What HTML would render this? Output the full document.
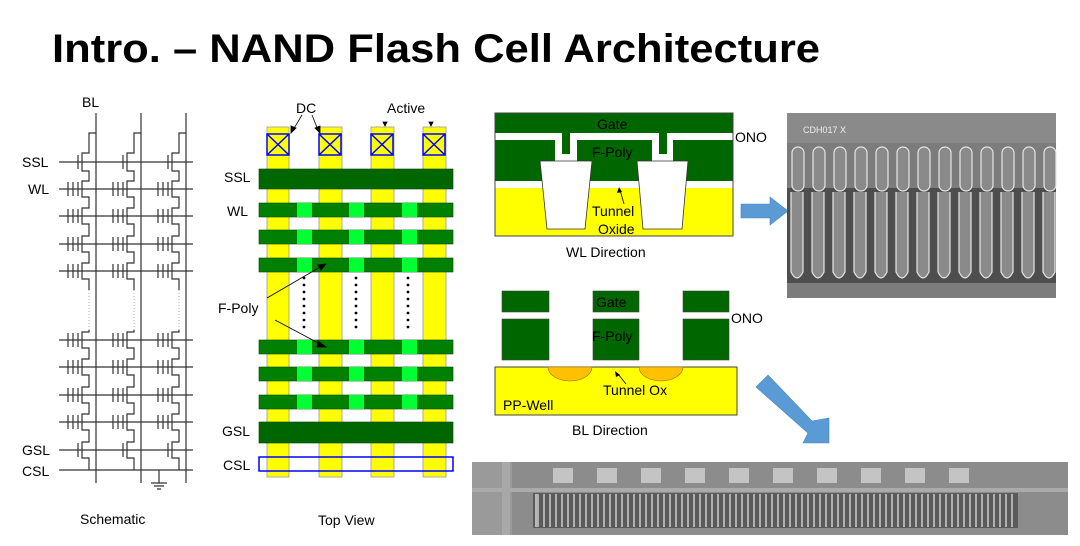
<!DOCTYPE html>
<html><head><meta charset="utf-8"><style>
html,body{margin:0;padding:0;background:#fff;}
svg{display:block;font-family:"Liberation Sans",Arial,sans-serif;}
</style></head><body>
<svg width="1080" height="546" viewBox="0 0 1080 546" xmlns="http://www.w3.org/2000/svg">
<text x="52" y="62" font-size="40" font-weight="bold" textLength="768" lengthAdjust="spacingAndGlyphs" fill="#000">Intro. – NAND Flash Cell Architecture</text>

<!-- Schematic -->
<g stroke="#333" stroke-width="1.2" fill="none">
 <line x1="96" y1="113" x2="96" y2="483"/><line x1="141" y1="113" x2="141" y2="483"/><line x1="186" y1="113" x2="186" y2="483"/>
 <g id="hl">
 <line x1="59" y1="162" x2="193" y2="162"/><line x1="59" y1="189" x2="193" y2="189"/><line x1="59" y1="216" x2="193" y2="216"/>
 <line x1="59" y1="244" x2="193" y2="244"/><line x1="59" y1="271" x2="193" y2="271"/><line x1="59" y1="340" x2="193" y2="340"/>
 <line x1="59" y1="367" x2="193" y2="367"/><line x1="59" y1="395" x2="193" y2="395"/><line x1="59" y1="422" x2="193" y2="422"/>
 <line x1="59" y1="450" x2="193" y2="450"/><line x1="59" y1="470" x2="193" y2="470"/>
 </g>
 <g id="col">
  <path d="M96 133 H89 V153 H82 V171 H89 V181 H82 V197 H89 V208 H82 V224 H89 V236 H82 V252 H89 V263 H82 V279 H89 V290"/>
  <path d="M89 290 V330" stroke-dasharray="1 2" stroke="#bbb"/>
  <path d="M89 330 V332 H82 V348 H89 V359 H82 V375 H89 V387 H82 V403 H89 V414 H82 V430 H89 V442 H82 V458 H89 V470"/>
  <path d="M78 155 V169 M78 182 V196 M73 182 V196 M68 182 V196 M78 209 V223 M73 209 V223 M68 209 V223 M78 237 V251 M73 237 V251 M68 237 V251 M78 264 V278 M73 264 V278 M68 264 V278 M78 333 V347 M73 333 V347 M68 333 V347 M78 360 V374 M73 360 V374 M68 360 V374 M78 388 V402 M73 388 V402 M68 388 V402 M78 415 V429 M73 415 V429 M68 415 V429 M78 443 V457"/>
 </g>
 <use href="#col" x="45"/><use href="#col" x="90"/>
 <path d="M159 470 V483 M151 483 H167 M154 486 H164 M157 489 H161"/>
</g>
<g font-size="14" fill="#000">
 <text x="82" y="107">BL</text>
 <text x="22" y="167">SSL</text><text x="28" y="194">WL</text>
 <text x="22" y="455">GSL</text><text x="22" y="476">CSL</text>
 <text x="80" y="524">Schematic</text>
</g>

<!-- Top view -->
<g fill="#ffff00" stroke="#999" stroke-width="0.8">
 <rect x="267" y="127" width="22" height="350"/><rect x="319" y="127" width="23" height="350"/>
 <rect x="371" y="127" width="23" height="350"/><rect x="423" y="127" width="23" height="350"/>
</g>
<g fill="none" stroke="#0000ff" stroke-width="1.5">
 <g id="dc"><rect x="267" y="134" width="22" height="21"/><path d="M267 134 L289 155 M289 134 L267 155"/></g>
 <use href="#dc" x="52"/><use href="#dc" x="104"/><use href="#dc" x="156"/>
 <rect x="259" y="457" width="194" height="14"/>
</g>
<g fill="#006600" stroke="#004400" stroke-width="0.6">
 <rect x="259" y="169" width="194" height="20"/><rect x="259" y="422" width="194" height="21"/>
</g>
<g id="wl">
 <rect x="259" y="203" width="194" height="14" fill="#008000" stroke="#004400" stroke-width="0.6"/>
 <rect x="297" y="203" width="15" height="14" fill="#00ff33"/><rect x="349" y="203" width="15" height="14" fill="#00ff33"/><rect x="402" y="203" width="15" height="14" fill="#00ff33"/>
</g>
<use href="#wl" y="27"/><use href="#wl" y="55"/><use href="#wl" y="137"/><use href="#wl" y="164"/><use href="#wl" y="192"/>
<g fill="#000">
 <g id="dots"><circle cx="304" cy="278" r="1.4"/><circle cx="304" cy="285" r="1.4"/><circle cx="304" cy="292" r="1.4"/><circle cx="304" cy="299" r="1.4"/><circle cx="304" cy="306" r="1.4"/><circle cx="304" cy="313" r="1.4"/><circle cx="304" cy="320" r="1.4"/><circle cx="304" cy="327" r="1.4"/></g>
 <use href="#dots" x="52"/><use href="#dots" x="104"/>
</g>
<g stroke="#000" stroke-width="0.8" fill="#000">
 <line x1="267" y1="298" x2="322" y2="266"/><path d="M326 264 L318 265 L321 270Z"/>
 <line x1="275" y1="320" x2="322" y2="345"/><path d="M326 347 L318 341 L317 347Z"/>
 <line x1="302" y1="115" x2="293" y2="130"/><path d="M291 133 L291 126 L296 128Z"/>
 <line x1="312" y1="115" x2="318" y2="130"/><path d="M320 133 L315 128 L320 126Z"/>
 <path d="M383 122 L387 122 L385 126Z M429 122 L433 122 L431 126Z"/>
</g>
<g font-size="14" fill="#000">
 <text x="296" y="113">DC</text><text x="387" y="113">Active</text>
 <text x="224" y="182">SSL</text><text x="227" y="216">WL</text>
 <text x="218" y="313">F-Poly</text>
 <text x="222" y="436">GSL</text><text x="223" y="470">CSL</text>
 <text x="318" y="525">Top View</text>
</g>

<!-- WL direction -->
<rect x="495" y="113" width="238" height="123" fill="#ffff00" stroke="#444" stroke-width="1"/>
<rect x="495" y="113" width="238" height="68" fill="#006600"/>
<rect x="495" y="181" width="238" height="7" fill="#fff"/>
<path d="M495 133 H733 V140 H673 V161 H652 V140 H577 V161 H555 V140 H495Z" fill="#fff"/>
<rect x="562" y="133" width="8" height="21" fill="#006600"/><rect x="659" y="133" width="8" height="21" fill="#006600"/>
<path d="M540 161 H592 L585 229 H547Z M637 161 H688 L682 229 H643Z" fill="#fff" stroke="#333" stroke-width="0.8"/>
<rect x="495" y="113" width="238" height="123" fill="none" stroke="#444" stroke-width="1"/>
<line x1="624" y1="204" x2="620" y2="190" stroke="#000" stroke-width="0.8"/><path d="M619 187 L617 193 L622 192Z"/>
<g font-size="14" fill="#000">
 <text x="597" y="129">Gate</text><text x="592" y="157">F-Poly</text>
 <text x="735" y="142">ONO</text>
 <text x="592" y="216">Tunnel</text><text x="598" y="234">Oxide</text>
 <text x="566" y="257">WL Direction</text>
</g>
<path d="M741 204 H770 V197 L788 211 L770 225 V218 H741Z" fill="#5b9bd5" stroke="#4a86c0" stroke-width="0.6"/>

<!-- Top SEM -->
<rect x="787" y="113" width="269" height="185" fill="#7c7c7c"/>
<rect x="787" y="113" width="269" height="30" fill="#8a8a8a"/>
<rect x="787" y="188" width="269" height="95" fill="#4e4e4e"/>
<g id="pil" fill="#8a8a8a" stroke="#e6e6e6" stroke-width="1.2">
 <rect x="792" y="147" width="12" height="44" rx="6"/>
 <path d="M791 192 V272 Q797 284 803 272 V192" />
</g>
<use href="#pil" x="21"/><use href="#pil" x="42"/><use href="#pil" x="63"/><use href="#pil" x="84"/><use href="#pil" x="105"/><use href="#pil" x="126"/><use href="#pil" x="147"/><use href="#pil" x="168"/><use href="#pil" x="189"/><use href="#pil" x="210"/><use href="#pil" x="231"/><use href="#pil" x="252"/>
<text x="803" y="133" font-size="9" fill="#eee">CDH017  X</text>

<!-- BL direction -->
<g fill="#006600" stroke="#444" stroke-width="0.6">
 <rect x="502" y="291" width="47" height="21"/><rect x="593" y="291" width="46" height="21"/><rect x="683" y="291" width="46" height="21"/>
 <rect x="502" y="319" width="47" height="41"/><rect x="593" y="319" width="46" height="41"/><rect x="683" y="319" width="46" height="41"/>
</g>
<rect x="495" y="367" width="242" height="48" fill="#ffff00" stroke="#444" stroke-width="1"/>
<path d="M548 367 A22 14 0 0 0 592 367Z M639 367 A22 14 0 0 0 683 367Z" fill="#ffc000" stroke="#a07000" stroke-width="0.6"/>
<line x1="626" y1="384" x2="618" y2="374" stroke="#000" stroke-width="0.8"/><path d="M615 371 L616 377 L620 375Z"/>
<g font-size="14" fill="#000">
 <text x="596" y="307">Gate</text><text x="592" y="341">F-Poly</text>
 <text x="731" y="323">ONO</text>
 <text x="603" y="395">Tunnel Ox</text><text x="503" y="410">PP-Well</text>
 <text x="572" y="435">BL Direction</text>
</g>
<path d="M756 387 L768 375 L812 421 L829 418 L829 443 L803 443 L808 433 Z" fill="#5b9bd5" stroke="#4a86c0" stroke-width="0.6"/>

<!-- Bottom SEM -->
<rect x="472" y="462" width="596" height="73" fill="#8c8c8c"/>
<rect x="472" y="462" width="40" height="73" fill="#9a9a9a"/>
<rect x="533" y="493" width="485" height="35" fill="#5a5a5a"/>
<g id="pb" fill="#b8b8b8"><rect x="535" y="494" width="3" height="33"/></g>
<g fill="#c4c4c4">
 <rect x="553" y="468" width="20" height="15"/><rect x="597" y="468" width="20" height="15"/><rect x="641" y="468" width="20" height="15"/><rect x="685" y="468" width="20" height="15"/><rect x="729" y="468" width="20" height="15"/><rect x="773" y="468" width="20" height="15"/><rect x="817" y="468" width="20" height="15"/><rect x="861" y="468" width="20" height="15"/><rect x="905" y="468" width="20" height="15"/><rect x="949" y="468" width="20" height="15"/>
</g>
<rect x="472" y="488" width="596" height="4" fill="#aaa"/>
<g fill="#b0b0b0">
 <rect x="537" y="494" width="2" height="33"/><rect x="543" y="494" width="2" height="33"/><rect x="549" y="494" width="2" height="33"/><rect x="555" y="494" width="2" height="33"/><rect x="561" y="494" width="2" height="33"/><rect x="567" y="494" width="2" height="33"/><rect x="573" y="494" width="2" height="33"/><rect x="579" y="494" width="2" height="33"/><rect x="585" y="494" width="2" height="33"/><rect x="591" y="494" width="2" height="33"/><rect x="597" y="494" width="2" height="33"/><rect x="603" y="494" width="2" height="33"/><rect x="609" y="494" width="2" height="33"/><rect x="615" y="494" width="2" height="33"/><rect x="621" y="494" width="2" height="33"/><rect x="627" y="494" width="2" height="33"/><rect x="633" y="494" width="2" height="33"/><rect x="639" y="494" width="2" height="33"/><rect x="645" y="494" width="2" height="33"/><rect x="651" y="494" width="2" height="33"/><rect x="657" y="494" width="2" height="33"/><rect x="663" y="494" width="2" height="33"/><rect x="669" y="494" width="2" height="33"/><rect x="675" y="494" width="2" height="33"/><rect x="681" y="494" width="2" height="33"/><rect x="687" y="494" width="2" height="33"/><rect x="693" y="494" width="2" height="33"/><rect x="699" y="494" width="2" height="33"/><rect x="705" y="494" width="2" height="33"/><rect x="711" y="494" width="2" height="33"/><rect x="717" y="494" width="2" height="33"/><rect x="723" y="494" width="2" height="33"/><rect x="729" y="494" width="2" height="33"/><rect x="735" y="494" width="2" height="33"/><rect x="741" y="494" width="2" height="33"/><rect x="747" y="494" width="2" height="33"/><rect x="753" y="494" width="2" height="33"/><rect x="759" y="494" width="2" height="33"/><rect x="765" y="494" width="2" height="33"/><rect x="771" y="494" width="2" height="33"/><rect x="777" y="494" width="2" height="33"/><rect x="783" y="494" width="2" height="33"/><rect x="789" y="494" width="2" height="33"/><rect x="795" y="494" width="2" height="33"/><rect x="801" y="494" width="2" height="33"/><rect x="807" y="494" width="2" height="33"/><rect x="813" y="494" width="2" height="33"/><rect x="819" y="494" width="2" height="33"/><rect x="825" y="494" width="2" height="33"/><rect x="831" y="494" width="2" height="33"/><rect x="837" y="494" width="2" height="33"/><rect x="843" y="494" width="2" height="33"/><rect x="849" y="494" width="2" height="33"/><rect x="855" y="494" width="2" height="33"/><rect x="861" y="494" width="2" height="33"/><rect x="867" y="494" width="2" height="33"/><rect x="873" y="494" width="2" height="33"/><rect x="879" y="494" width="2" height="33"/><rect x="885" y="494" width="2" height="33"/><rect x="891" y="494" width="2" height="33"/><rect x="897" y="494" width="2" height="33"/><rect x="903" y="494" width="2" height="33"/><rect x="909" y="494" width="2" height="33"/><rect x="915" y="494" width="2" height="33"/><rect x="921" y="494" width="2" height="33"/><rect x="927" y="494" width="2" height="33"/><rect x="933" y="494" width="2" height="33"/><rect x="939" y="494" width="2" height="33"/><rect x="945" y="494" width="2" height="33"/><rect x="951" y="494" width="2" height="33"/><rect x="957" y="494" width="2" height="33"/><rect x="963" y="494" width="2" height="33"/><rect x="969" y="494" width="2" height="33"/><rect x="975" y="494" width="2" height="33"/><rect x="981" y="494" width="2" height="33"/><rect x="987" y="494" width="2" height="33"/><rect x="993" y="494" width="2" height="33"/><rect x="999" y="494" width="2" height="33"/><rect x="1005" y="494" width="2" height="33"/><rect x="1011" y="494" width="2" height="33"/>
</g>
<rect x="502" y="462" width="8" height="73" fill="#a8a8a8"/>
</svg>
</body></html>
